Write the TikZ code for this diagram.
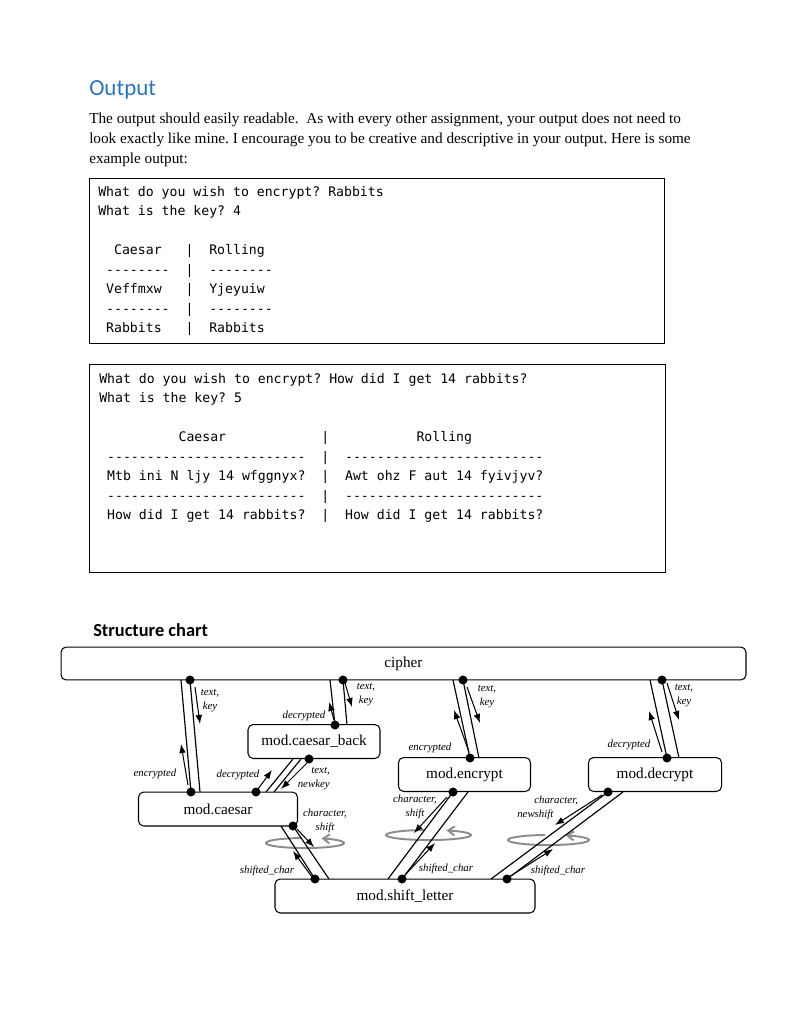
\documentclass[tikz,border=0pt]{standalone}
\usepackage{fontspec}
\setmainfont{Liberation Serif}
\setmonofont{DejaVu Sans Mono}
\newfontfamily\headfont{Carlito}
\usetikzlibrary{arrows.meta}
\definecolor{headblue}{HTML}{2E74B5}
\definecolor{loopgray}{HTML}{8C8C8C}
\frenchspacing

\begin{document}
\begin{tikzpicture}[x=0.7742pt, y=-0.7742pt,
    every node/.style={inner sep=0pt},
    headtext/.style={font=\fontsize{17.8}{20}\headfont, text=headblue},
    bodytext/.style={font=\fontsize{11.8}{15.5}\selectfont, align=left},
    console/.style={font=\fontsize{10.2}{15.1}\ttfamily, align=left},
    outbox/.style={draw, line width=0.6pt},
    modbox/.style={draw, line width=0.8pt, rounded corners=4pt, minimum height=26.3pt, font=\fontsize{11.8}{14}\selectfont},
    callline/.style={line width=0.9pt},
    dataflow/.style={line width=0.8pt, -{Latex[length=7pt, width=5.2pt]}},
    flowlabel/.style={font=\fontsize{8.4}{10.8}\selectfont\itshape, align=center},
    iterloop/.style={draw=loopgray, line width=1.5pt, -{Straight Barb[length=5pt, width=7pt]}}
  ]
  \path[use as bounding box, fill=white] (0,0) rectangle (791,1024);

  % page text
  \node[headtext, anchor=base west] (title) at (89,95) {Output};
  \node[bodytext, anchor=north west] (intro) at (89,112.5) {The output should easily readable.~ As with every other assignment, your output does not need to\\look exactly like mine. I encourage you to be creative and descriptive in your output. Here is some\\example output:};

  % example runs
  \node[outbox, minimum width=445.2pt, minimum height=127.7pt, anchor=north west] (run1) at (89,178) {};
  \node[console, anchor=north west] (run1text) at (98,185.8) {What do you wish to encrypt? Rabbits\\What is the key? 4\\[15.1pt]~~Caesar~~~|~~Rolling\\~--------~~|~~--------\\~Veffmxw~~~|~~Yjeyuiw\\~--------~~|~~--------\\~Rabbits~~~|~~Rabbits};
  \node[outbox, minimum width=445.9pt, minimum height=161.0pt, anchor=north west] (run2) at (89,364) {};
  \node[console, anchor=north west] (run2text) at (99,372.8) {What do you wish to encrypt? How did I get 14 rabbits?\\What is the key? 5\\[15.1pt]~~~~~~~~~~Caesar~~~~~~~~~~~~|~~~~~~~~~~~Rolling\\~-------------------------~~|~~-------------------------\\~Mtb ini N ljy 14 wfggnyx?~~|~~Awt ohz F aut 14 fyivjyv?\\~-------------------------~~|~~-------------------------\\~How did I get 14 rabbits?~~|~~How did I get 14 rabbits?};

  % structure chart
  \node[font=\fontsize{14.25}{17}\headfont\bfseries, anchor=base west] (charttitle) at (93,636) {Structure chart};
  \node[modbox, minimum width=530.3pt, minimum height=25.5pt] (cipher) at (403.5,663.5) {cipher};
  \node[modbox, minimum width=102.2pt] (caesarback) at (314,741.5) {mod.caesar\_back};
  \node[modbox, minimum width=102.2pt] (encrypt) at (464.5,774.5) {mod.encrypt};
  \node[modbox, minimum width=103.0pt] (decrypt) at (655,774.5) {mod.decrypt};
  \node[modbox, minimum width=123.1pt] (caesar) at (218,809) {mod.caesar};
  \node[modbox, minimum width=201.3pt] (shiftletter) at (405,896) {mod.shift\_letter};

  % loops round the calls of mod.shift_letter
  \coordinate (loopF) at (305,843);
  \coordinate (loopG) at (428.5,835);
  \coordinate (loopH) at (548.5,840);
  \draw[iterloop] (loopF) ++(95:30.2pt and 3.9pt) arc[start angle=95, end angle=425, x radius=30.2pt, y radius=3.9pt];
  \draw[iterloop] (loopG) ++(95:32.9pt and 3.9pt) arc[start angle=95, end angle=425, x radius=32.9pt, y radius=3.9pt];
  \draw[iterloop] (loopH) ++(95:31.4pt and 3.9pt) arc[start angle=95, end angle=425, x radius=31.4pt, y radius=3.9pt];

  % cipher -- mod.caesar
  \coordinate (caT) at (190,680); \coordinate (caR) at (200,792);
  \coordinate (caL) at (181,680); \coordinate (caB) at (191,792);
  \draw[callline] (caT) -- (caR) (caL) -- (caB);
  \fill (caT) circle[radius=3.5pt] (caB) circle[radius=3.5pt];
  \draw[dataflow] (caT) ++(5,7) -- ++(5,37);
  \draw[dataflow] (caB) ++(-3,-7) -- ++(-7,-41);
  \node[flowlabel] (caIn) at (210,701) {text,\\key};
  \node[flowlabel] (caOut) at (155,774) {encrypted};

  % cipher -- mod.caesar_back
  \coordinate (cbT) at (343,680); \coordinate (cbR) at (347,725);
  \coordinate (cbL) at (330,680); \coordinate (cbB) at (335,725);
  \draw[callline] (cbT) -- (cbR) (cbL) -- (cbB);
  \fill (cbT) circle[radius=3.5pt] (cbB) circle[radius=3.5pt];
  \draw[dataflow] (cbT) ++(2,3) -- ++(7,24);
  \draw[dataflow] (cbB) ++(-1,-5) -- ++(-5,-18);
  \node[flowlabel] (cbIn) at (366,695) {text,\\key};
  \node[flowlabel] (cbOut) at (304,716) {decrypted};

  % cipher -- mod.encrypt
  \coordinate (enT) at (463,680); \coordinate (enR) at (479,758);
  \coordinate (enL) at (453,680); \coordinate (enB) at (470,758);
  \draw[callline] (enT) -- (enR) (enL) -- (enB);
  \fill (enT) circle[radius=3.5pt] (enB) circle[radius=3.5pt];
  \draw[dataflow] (enT) ++(4,7) -- ++(13,36);
  \draw[dataflow] (enB) ++(-1,-6) -- ++(-15,-42);
  \node[flowlabel] (enIn) at (487,697) {text,\\key};
  \node[flowlabel] (enOut) at (430,748) {encrypted};

  % cipher -- mod.decrypt
  \coordinate (deT) at (662,680); \coordinate (deR) at (679,758);
  \coordinate (deL) at (650,680); \coordinate (deB) at (667,758);
  \draw[callline] (deT) -- (deR) (deL) -- (deB);
  \fill (deT) circle[radius=3.5pt] (deB) circle[radius=3.5pt];
  \draw[dataflow] (deT) ++(5,3) -- ++(12,37);
  \draw[dataflow] (deB) ++(-5,-6) -- ++(-13,-41);
  \node[flowlabel] (deIn) at (684,696) {text,\\key};
  \node[flowlabel] (deOut) at (629,745) {decrypted};

  % mod.caesar_back -- mod.caesar
  \coordinate (bcT) at (309,759); \coordinate (bcB) at (256,792);
  \coordinate (bcL1) at (293,759); \coordinate (bcL2) at (266,792);
  \coordinate (bcR1) at (301,759); \coordinate (bcR2) at (274,792);
  \draw[callline] (bcL1) -- (bcL2) (bcR1) -- (bcR2);
  \fill (bcT) circle[radius=3.5pt] (bcB) circle[radius=3.5pt];
  \draw[dataflow] (bcB) ++(2,-3) -- ++(14,-19);
  \draw[dataflow] (bcT) ++(-2,4) -- ++(-26,26);
  \node[flowlabel] (bcOut) at (238,775) {decrypted};
  \node[flowlabel, align=right, anchor=east] (bcIn) at (330,778.5) {text,\\newkey};

  % mod.caesar -- mod.shift_letter
  \coordinate (csT) at (293,826); \coordinate (csR) at (329,879);
  \coordinate (csL) at (281,826); \coordinate (csB) at (315,879);
  \draw[callline] (csT) -- (csR) (csL) -- (csB);
  \fill (csT) circle[radius=3.5pt] (csB) circle[radius=3.5pt];
  \draw[dataflow] (csT) ++(4,3) -- ++(17,18);
  \draw[dataflow] (csB) ++(-3,-2) -- ++(-19,-26);
  \node[flowlabel] (csIn) at (325,821) {character,\\shift};
  \node[flowlabel] (csOut) at (267,871) {shifted\_char};

  % mod.encrypt -- mod.shift_letter
  \coordinate (esT) at (453,792); \coordinate (esL) at (388,879);
  \coordinate (esR) at (468,792); \coordinate (esB) at (402,879);
  \draw[callline] (esT) -- (esL) (esR) -- (esB);
  \fill (esT) circle[radius=3.5pt] (esB) circle[radius=3.5pt];
  \draw[dataflow] (esT) ++(-6,5) -- ++(-33,36);
  \draw[dataflow] (esB) ++(3,-4) -- ++(30,-32);
  \node[flowlabel] (esIn) at (415,807) {character,\\shift};
  \node[flowlabel] (esOut) at (446,869) {shifted\_char};

  % mod.decrypt -- mod.shift_letter
  \coordinate (dsT) at (608,792); \coordinate (dsL) at (491,879);
  \coordinate (dsR) at (623,792); \coordinate (dsB) at (507,879);
  \draw[callline] (dsT) -- (dsL) (dsR) -- (dsB);
  \fill (dsT) circle[radius=3.5pt] (dsB) circle[radius=3.5pt];
  \draw[dataflow] (dsT) ++(-6,3) -- ++(-47,30);
  \draw[dataflow] (dsB) ++(2,-2) -- ++(44,-28);
  \node[flowlabel, align=left, anchor=west] (dsIn) at (517,808) {\hspace*{13.2pt}character,\\newshift};
  \node[flowlabel] (dsOut) at (558,871) {shifted\_char};
\end{tikzpicture}
\end{document}
